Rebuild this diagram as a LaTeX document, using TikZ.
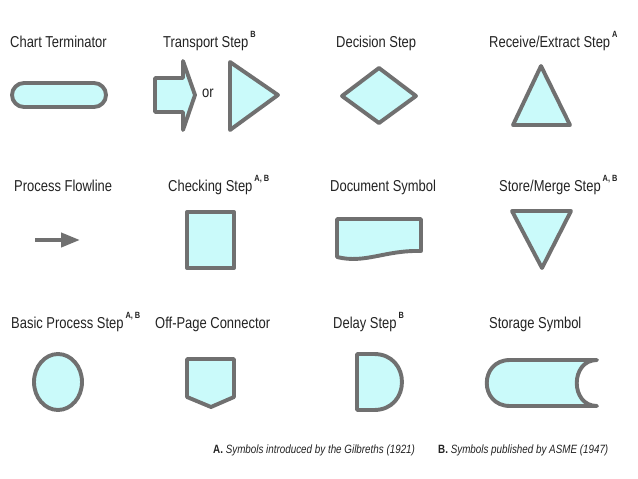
\documentclass[tikz,border=0pt]{standalone}
\usepackage{fontspec}
\setmainfont{Liberation Sans}[FakeStretch=0.82]
\usepackage{tikz}
\usepackage{xcolor}
\usetikzlibrary{arrows.meta}

\definecolor{symline}{RGB}{112,112,112}
\definecolor{symfill}{RGB}{202,250,250}
\definecolor{captext}{RGB}{35,35,35}

\newcommand{\symnote}[1]{\hspace{2pt}\raisebox{9.5pt}{\fontsize{9}{9}\selectfont\bfseries #1}}

\begin{document}
\begin{tikzpicture}[x=1pt, y=-1pt,
    symbol/.style={draw=symline, fill=symfill, line width=3.9pt, line join=round},
    caption/.style={anchor=base west, inner sep=0pt, text=captext, font=\fontsize{15.8}{18}\selectfont},
    footnote/.style={anchor=base west, inner sep=0pt, text=captext, font=\fontsize{12}{14}\selectfont},
    flowarrow/.style={draw=symline, line width=4pt, -{Triangle[length=19pt, width=14pt]}}]

    \fill[white] (0,0) rectangle (638,479);
    \useasboundingbox (0,0) rectangle (638,479);

    % row 1
    \node[caption] (terminator) at (10, 47.5)  {Chart Terminator};
    \node[caption] (transport)  at (163, 47.5) {Transport Step\symnote{B}};
    \node[caption] (decision)   at (336, 47.5) {Decision Step};
    \node[caption] (receive)    at (489, 47.5) {Receive/Extract Step\symnote{A}};

    \draw[symbol, rounded corners=12pt] (12,83) rectangle (106,107);
    \draw[symbol] (155,78) -- (183,78) -- (183,61) -- (195,95) -- (183,130)
        -- (183,112) -- (155,112) -- cycle;
    \node[caption, anchor=center] (or) at (208, 93) {or};
    \draw[symbol] (230,62) -- (278,95) -- (230,130) -- cycle;
    \draw[symbol] (342,96) -- (379,68) -- (416,96) -- (379,123) -- cycle;
    \draw[symbol] (541,66) -- (570,125) -- (513,125) -- cycle;

    % row 2
    \node[caption] (flowline) at (14, 191)  {Process Flowline};
    \node[caption] (checking) at (168, 191) {Checking Step\symnote{A, B}};
    \node[caption] (document) at (330, 191) {Document Symbol};
    \node[caption] (store)    at (499, 191) {Store/Merge Step\symnote{A, B}};

    \coordinate (flowtail) at (35, 240);
    \coordinate (flowhead) at (80, 240);
    \draw[flowarrow] (flowtail) -- (flowhead);
    \draw[symbol] (187,212) rectangle (234,268);
    \draw[symbol] (337,219) -- (421,219) -- (421,251)
        .. controls (385,250) and (365,264) .. (337,257) -- cycle;
    \draw[symbol] (512,211) -- (571,211) -- (542,268) -- cycle;

    % row 3
    \node[caption] (basic)     at (11, 328)  {Basic Process Step\symnote{A, B}};
    \node[caption] (offpage)   at (155, 328) {Off-Page Connector};
    \node[caption] (delay)     at (333, 328) {Delay Step\symnote{B}};
    \node[caption] (storage)   at (489, 328) {Storage Symbol};

    \draw[symbol] (58,382) ellipse [x radius=24, y radius=28];
    \draw[symbol] (187,359) -- (234,359) -- (234,397) -- (211,407) -- (187,397) -- cycle;
    \draw[symbol] (357,354) -- (374,354) .. controls (411.3,354) and (411.3,410) .. (374,410)
        -- (357,410) -- cycle;
    \draw[symbol] (510,360) -- (597,360) .. controls (570,360) and (570,406) .. (597,406)
        -- (510,406) .. controls (479,406) and (479,360) .. (510,360) -- cycle;

    % notes
    \node[footnote] (notea) at (213, 453) {\textbf{A.} \textit{Symbols introduced by the Gilbreths (1921)}};
    \node[footnote] (noteb) at (438, 453) {\textbf{B.} \textit{Symbols published by ASME (1947)}};

\end{tikzpicture}
\end{document}
